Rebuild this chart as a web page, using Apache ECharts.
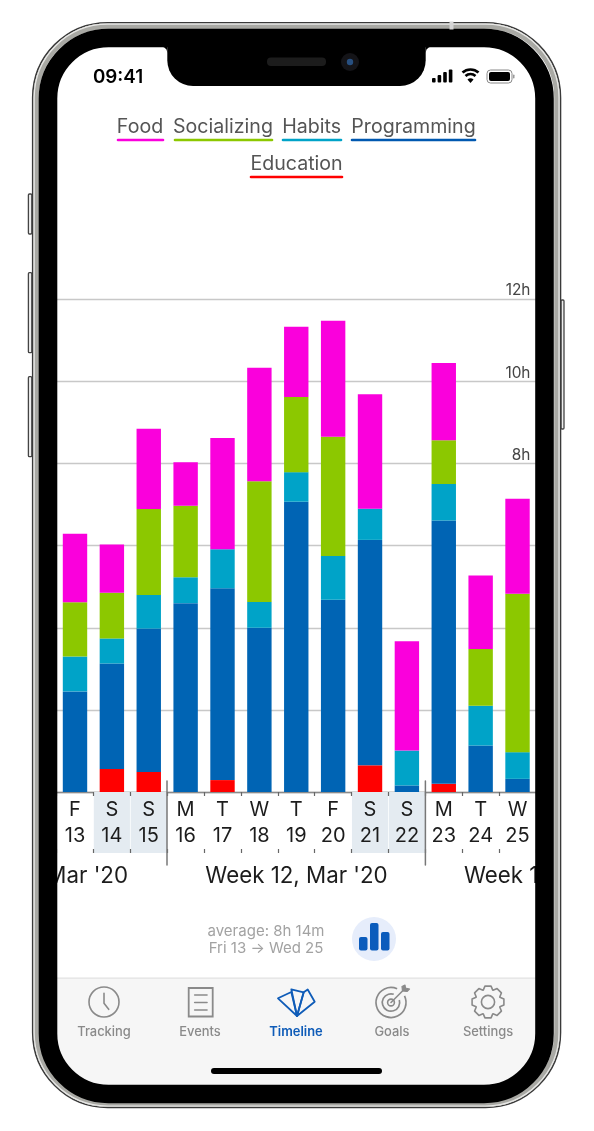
<!DOCTYPE html>
<html>
<head>
<meta charset="utf-8">
<style>html,body{margin:0;padding:0;background:#fff}#c{width:594px;height:1131px}</style>
<script src="https://cdn.jsdelivr.net/npm/echarts@6/dist/echarts.min.js"></script>
</head>
<body>
<div id="c"></div>
<script>
const weekdays = ['F','S','S','M','T','W','T','F','S','S','M','T','W'];
const dates = ['13','14','15','16','17','18','19','20','21','22','23','24','25'];
const education   = [0,0.56,0.49,0,0.29,0,0,0,0.65,0,0.20,0,0];
const programming = [2.45,2.57,3.49,4.60,4.67,4.00,7.07,4.68,5.49,0.16,6.41,1.13,0.32];
const habits      = [0.85,0.61,0.82,0.63,0.95,0.63,0.72,1.07,0.76,0.85,0.89,0.97,0.65];
const socializing = [1.32,1.11,2.09,1.74,0,2.94,1.83,2.90,0,0,1.07,1.38,3.86];
const food        = [1.67,1.18,1.96,1.06,2.71,2.76,1.71,2.83,2.79,2.66,1.88,1.79,2.31];
const weekend     = [0,1,1,0,0,0,0,0,1,1,0,0,0];
const hourTicks   = [8,10,12];
const legendNames = ['Food','Socializing','Habits','Programming','Education'];
const legendColors= ['#fa00dc','#8cc800','#00a3c8','#0058b0','#ff0000'];
const tabNames    = ['Tracking','Events','Timeline','Goals','Settings'];

const FONT = 'Inter, "Noto Sans", sans-serif';
const GREY = '#8a8a8a', BLUE = '#0f5cb8';
const categories = weekdays.map((d,i)=>d+'\n'+dates[i]);
const chart = echarts.init(document.getElementById('c'), null, {renderer:'canvas', width:594, height:1131});

function seriesOf(name, data, color){
  return {name, type:'bar', stack:'day', data, barWidth:24.4, xAxisIndex:0, yAxisIndex:0,
    itemStyle:{color}, animation:false, silent:true};
}
const T=(text,x,y,size,color,align,weight)=>({type:'text',z:120,silent:true,
  style:{text,x,y,fill:color,font:(weight||400)+' '+size+'px '+FONT,textAlign:align||'center',textVerticalAlign:'middle'}});
const L=(pts,stroke,lw,fill)=>({type:'polyline',z:120,silent:true,shape:{points:pts},style:{stroke,lineWidth:lw,fill:fill||null,lineJoin:'round',lineCap:'round'}});
const C=(cx,cy,r,stroke,lw,fill)=>({type:'circle',z:120,silent:true,shape:{cx,cy,r},style:{stroke:stroke||null,lineWidth:lw||0,fill:fill||null}});
const R=(x,y,w,h,r,fill,stroke,lw,z)=>({type:'rect',z:z||120,silent:true,shape:{x,y,width:w,height:h,r},style:{fill:fill||null,stroke:stroke||null,lineWidth:lw||0}});
const A=(cx,cy,r,s,e,stroke,lw,cap)=>({type:'arc',z:120,silent:true,shape:{cx,cy,r,startAngle:s,endAngle:e},style:{stroke,lineWidth:lw,fill:null,lineCap:cap||'butt'}});
const P=(pts,fill,z)=>({type:'polygon',z:z||120,silent:true,shape:{points:pts},style:{fill}});

const g=[];
// week labels and separators (below bezel in z)
g.push(Object.assign(T("Mar '20",128,876,22.3,'#1c1c1c','right'),{z:100}));
g.push(Object.assign(T("Week 12, Mar '20",296.5,876,22.3,'#1c1c1c','center'),{z:100}));
g.push(Object.assign(T("Week 1",464,876,22.3,'#1c1c1c','left'),{z:100}));
g.push(L([[167,781],[167,865]],'#777',1.5));
g.push(L([[425.4,781],[425.4,865]],'#777',1.5));
// legend
const lg=[[140,133,118,163,140],[223,133,175,272,140],[311.7,133,283,341,140],[413.5,133,352,475,140],[296.5,170,251,342,177]];
lg.forEach((p,i)=>{
  g.push(T(legendNames[i],p[0],p[1]-6,19.6,'#555'));
  g.push(L([[p[2],p[4]],[p[3],p[4]]],legendColors[i],2.6));
});
// summary
g.push(T('average: 8h 14m',266,931.5,15,'#a2a2a2'));
g.push(T('Fri 13 \u2192 Wed 25',266,948.5,15,'#a2a2a2'));
g.push(C(374,939,22,null,0,'#e6edfb'));
g.push(R(359,937,8.5,13.5,2,'#0b5cbc'));
g.push(R(370,923,8.5,27.5,2,'#0b5cbc'));
g.push(R(381,932,8.5,18.5,2,'#0b5cbc'));
// tab bar
g.push(R(57,978,479,107,[0,0,52,52],'#f6f6f6'));
g.push(R(57,977.5,479,1.3,0,'#e2e2e2'));
[104,200,296,392,488].forEach((x,i)=>g.push(T(tabNames[i],x,1032,12.9,i===2?BLUE:GREY,'center',i===2?600:500)));
g.push(C(104,1002,15,GREY,1.6));
g.push(L([[104,993.3],[104,1003.3],[108.7,1009.3]],GREY,1.6));
g.push(R(188.7,988,24,28.5,0,null,GREY,1.8));
[995,1002.5,1010].forEach(y=>g.push(L([[194.7,y],[207,y]],GREY,1.6)));
const V=[297,1016];
g.push(L([V,[278,998.3],[291.3,992],V],BLUE,1.8));
g.push(L([V,[291.3,989.3],[303.7,992.3],V],BLUE,1.8));
g.push(L([V,[303.7,992.3],[307.7,989.5],[314.7,1001.7],V],BLUE,1.8));
g.push(A(391,1002.5,15,-0.45,-1.15+6.283,GREY,1.7));
g.push(A(391,1002.5,8.7,-0.3,-1.25+6.283,GREY,1.7));
g.push(C(391,1002.5,3.4,GREY,1.6));
g.push(L([[391,1002.5],[405,988.5]],GREY,1.6));
g.push(L([[402,986.5],[402.5,991],[407,991.5],[409.5,989],[405.5,988],[405,985],[402,986.5]],GREY,1.2,GREY));
const gear=[];const N=8;
for(let i=0;i<N;i++){const a=i/N*Math.PI*2;const w=0.19;
  [[-0.38,12.8],[-w,16.2],[w,16.2],[0.38,12.8]].forEach(q=>gear.push([488+q[1]*Math.cos(a+q[0]),1002+q[1]*Math.sin(a+q[0])]));}
gear.push(gear[0]);
g.push(L(gear,GREY,1.6));
g.push(C(488,1002,6.6,GREY,1.6));
// home indicator
g.push(R(211,1068,171,6,3,'#000'));
// phone frame
g.push(R(32.7,22.7,527.8,1084.8,75,null,'#3a3a3a',1.6,130));
g.push(R(36.2,26.2,520.8,1077.8,71.5,null,'#a9a9a4',5.6,130));
g.push(R(34.2,24.2,524.8,1081.8,73.5,null,'#e8e8e6',1.2,130));
g.push(R(48,38,496.5,1056,60.5,null,'#000',18.6,131));
// side buttons
[[194,40],[272.7,80],[376.7,80]].forEach(b=>g.push(R(28.4,b[0],3.4,b[1],1,'#eee','#444',1.3,129)));
g.push(R(561,300,3,129,1,'#eee','#444',1.3,129));
g.push(R(449.5,21.5,4,8,0,'#d5d5d5',null,0,132));
// notch
g.push(R(167.3,40,258.4,46,[0,0,25.7,25.7],'#000',null,0,132));
g.push(P([[159,46],[164,47.3],[166.5,49.5],[167.4,53],[167.4,46]],'#000',132));
g.push(P([[434,46],[429,47.3],[426.5,49.5],[425.6,53],[425.6,46]],'#000',132));
g.push(Object.assign(R(267,57.5,59,8.5,4,'#1c1c1c'),{z:133}));
g.push(Object.assign(C(350,62,9,null,0,'#141418'),{z:133}));
g.push(Object.assign(C(350,62,3.2,null,0,'#274f80'),{z:134}));
// status bar
g.push(T('09:41',118,77,18.8,'#000','center',600));
[[432,78,3.6,4.5],[437.6,75,3.6,7.5],[443.2,72,3.6,10.5],[448.8,69.5,3.6,13]].forEach(b=>g.push(R(b[0],b[1],b[2],b[3],1,'#000')));
g.push(A(470.5,81.5,12,-2.3,-0.84,'#000',2.7));
g.push(A(470.5,81.5,7.5,-2.3,-0.84,'#000',2.7));
g.push({type:'sector',z:120,silent:true,shape:{cx:470.5,cy:83,r:4.6,r0:0,startAngle:-2.3,endAngle:-0.84},style:{fill:'#000'}});
g.push(R(487,70,25,13,3.5,null,'#888',1));
g.push(R(489,72,21,9,2,'#000'));
g.push(R(513,74.5,1.5,4,0.7,'#999'));

chart.setOption({
  animation:false,
  textStyle:{fontFamily:FONT},
  grid:[
    {left:56.56, width:479.4, top:299.3, height:492.7},
    {left:56.56, width:479.4, top:792, height:61}
  ],
  xAxis:[
    {type:'category', gridIndex:0, data:categories, boundaryGap:true,
     axisLine:{lineStyle:{color:'#8a8a8a',width:1.4}},
     axisTick:{show:true,length:4,lineStyle:{color:'#666',width:1.2}},
     axisLabel:{interval:0,color:'#1c1c1c',fontSize:20,lineHeight:26,margin:5,fontFamily:FONT}},
    {type:'category', gridIndex:1, position:'top', data:categories, boundaryGap:true,
     axisLine:{show:false},
     axisTick:{show:true,length:4,lineStyle:{color:'#666',width:1.2}},
     axisLabel:{show:false}}
  ],
  yAxis:[
    {type:'value', gridIndex:0, position:'right', min:0, max:12, interval:2,
     axisLine:{show:false}, axisTick:{show:false},
     splitLine:{show:true,lineStyle:{color:'#c8c8c8',width:1.3}},
     axisLabel:{inside:true,margin:5.5,color:'#444',fontSize:15.4,fontFamily:FONT,verticalAlign:'bottom',lineHeight:17,
       formatter:v=>hourTicks.includes(v)?v+'h':''}},
    {type:'value', gridIndex:1, min:0, max:1, show:false}
  ],
  series:[
    {name:'Weekend', type:'bar', xAxisIndex:1, yAxisIndex:1, data:weekend, barWidth:'98%', silent:true, z:0,
     itemStyle:{color:'#e4ebf1'}},
    seriesOf('Education',education,legendColors[4]),
    seriesOf('Programming',programming,'#0064b4'),
    seriesOf('Habits',habits,legendColors[2]),
    seriesOf('Socializing',socializing,legendColors[1]),
    seriesOf('Food',food,legendColors[0])
  ],
  graphic:{elements:g}
});
</script>
</body>
</html>
